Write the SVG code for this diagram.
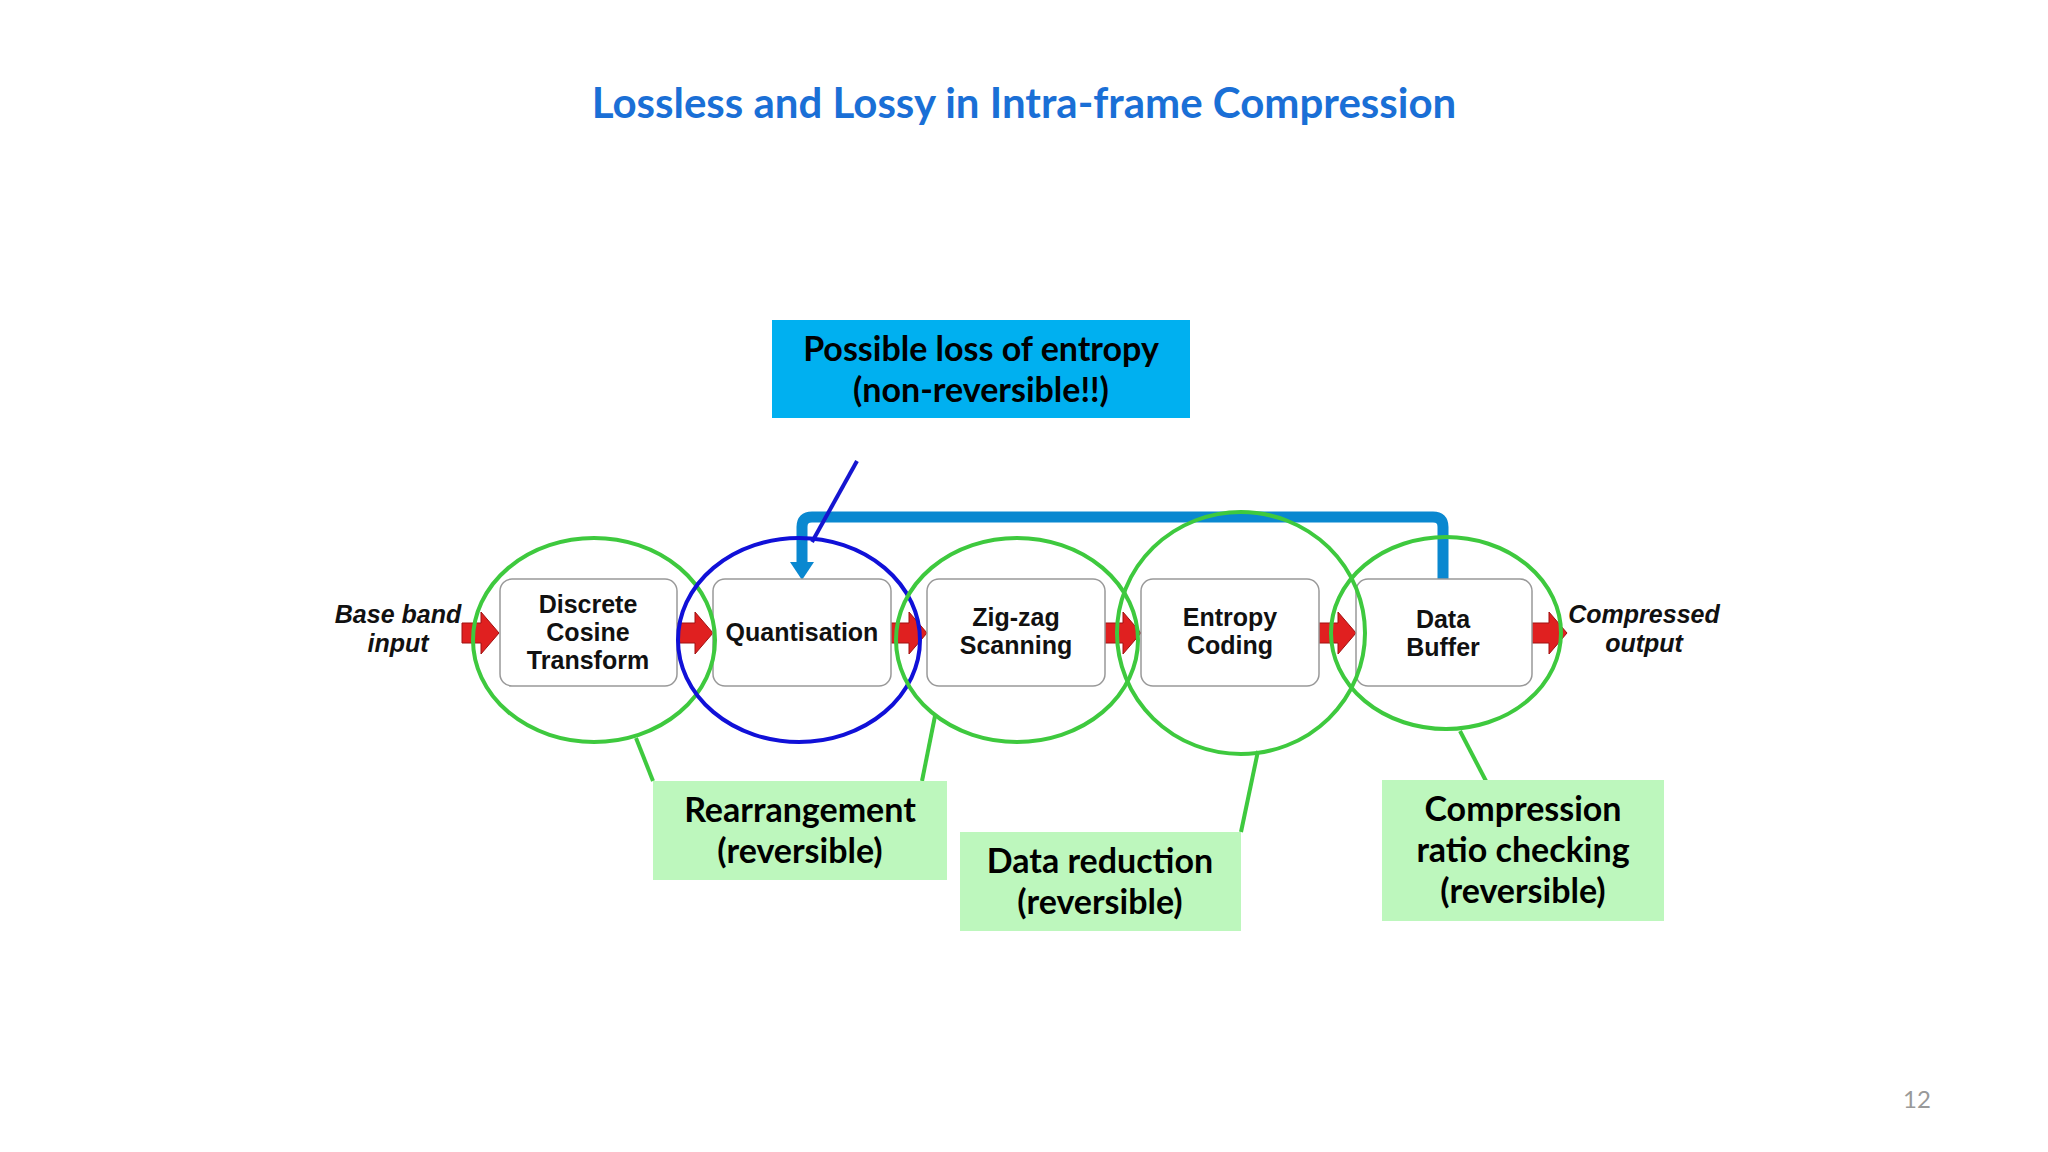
<svg xmlns="http://www.w3.org/2000/svg" width="2048" height="1152" viewBox="0 0 2048 1152">
<style>
.box{fill:#fff;stroke:#999;stroke-width:1.5}
.bt{font-family:"Liberation Sans",Arial,sans-serif;font-weight:bold;font-size:25px;fill:#111;text-anchor:middle}
.it{font-family:"Liberation Sans",Arial,sans-serif;font-weight:bold;font-style:italic;font-size:25px;fill:#111;text-anchor:middle}
.gt{font-family:"Lato","Noto Sans",sans-serif;font-weight:bold;font-size:34px;fill:#000;text-anchor:middle}
.gb{fill:#bdf7bd}
.ge{fill:none;stroke:#3ec93e;stroke-width:4}
.gl{stroke:#3ec93e;stroke-width:4}
.ra{fill:#e02020;stroke:#a01010;stroke-width:1}
</style>
<rect width="2048" height="1152" fill="#fff"/>
<text x="1024" y="118" font-family="Lato,'Noto Sans',sans-serif" font-weight="bold" font-size="42" fill="#1a6fd6" text-anchor="middle">Lossless and Lossy in Intra-frame Compression</text>
<g id="connectors">
<path d="M1443,579 V527 Q1443,517 1433,517 H812 Q802,517 802,527 V564" fill="none" stroke="#0a88d0" stroke-width="11"/>
<polygon points="790,562 814,562 802,580" fill="#0a88d0"/>
<line x1="857" y1="461" x2="812" y2="542" stroke="#1515d0" stroke-width="4"/>
<g id="redarrows">
<polygon class="ra" points="462,623 481,623 481,612 499,633 481,654 481,643 462,643"/>
<polygon class="ra" points="677,623 695,623 695,612 713,633 695,654 695,643 677,643"/>
<polygon class="ra" points="891,623 909,623 909,612 927,633 909,654 909,643 891,643"/>
<polygon class="ra" points="1105,623 1123,623 1123,612 1141,633 1123,654 1123,643 1105,643"/>
<polygon class="ra" points="1319,623 1338,623 1338,612 1356,633 1338,654 1338,643 1319,643"/>
<polygon class="ra" points="1532,623 1549,623 1549,612 1567,633 1549,654 1549,643 1532,643"/>
</g>
<line class="gl" x1="636" y1="738" x2="653" y2="781"/>
<line class="gl" x1="935" y1="716" x2="922" y2="781"/>
<line class="gl" x1="1258" y1="751" x2="1241" y2="832"/>
<line class="gl" x1="1460" y1="731" x2="1486" y2="781"/>
</g>
<g id="dct"><rect class="box" x="500" y="579" width="177" height="107" rx="12"/>
<text class="bt" x="588" y="613">Discrete</text><text class="bt" x="588" y="641">Cosine</text><text class="bt" x="588" y="669">Transform</text></g>
<g id="quant"><rect class="box" x="713" y="579" width="178" height="107" rx="12"/>
<text class="bt" x="802" y="641">Quantisation</text></g>
<g id="zigzag"><rect class="box" x="927" y="579" width="178" height="107" rx="12"/>
<text class="bt" x="1016" y="626">Zig-zag</text><text class="bt" x="1016" y="654">Scanning</text></g>
<g id="entropy"><rect class="box" x="1141" y="579" width="178" height="107" rx="12"/>
<text class="bt" x="1230" y="626">Entropy</text><text class="bt" x="1230" y="654">Coding</text></g>
<g id="buffer"><rect class="box" x="1356" y="579" width="176" height="107" rx="12"/>
<text class="bt" x="1443" y="628">Data</text><text class="bt" x="1443" y="656">Buffer</text></g>
<g id="ellipses">
<ellipse class="ge" cx="594" cy="640" rx="121" ry="102"/>
<ellipse cx="799" cy="640" rx="121" ry="102" fill="none" stroke="#1010d8" stroke-width="4"/>
<ellipse class="ge" cx="1017" cy="640" rx="121" ry="102"/>
<ellipse class="ge" cx="1241" cy="633" rx="124" ry="121"/>
<ellipse class="ge" cx="1446" cy="633" rx="115" ry="96"/>
</g>
<g id="input"><text class="it" x="398" y="623">Base band</text><text class="it" x="398" y="652">input</text></g>
<g id="output"><text class="it" x="1644" y="623">Compressed</text><text class="it" x="1644" y="652">output</text></g>
<g id="loss"><rect x="772" y="320" width="418" height="98" fill="#00b0f0"/>
<text class="gt" x="981" y="361">Possible loss of entropy</text><text class="gt" x="981" y="402">(non-reversible!!)</text></g>
<g id="rearr"><rect class="gb" x="653" y="781" width="294" height="99"/>
<text class="gt" x="800" y="822">Rearrangement</text><text class="gt" x="800" y="863">(reversible)</text></g>
<g id="reduction"><rect class="gb" x="960" y="832" width="281" height="99"/>
<text class="gt" x="1100" y="873">Data reduction</text><text class="gt" x="1100" y="914">(reversible)</text></g>
<g id="ratio"><rect class="gb" x="1382" y="780" width="282" height="141"/>
<text class="gt" x="1523" y="821">Compression</text><text class="gt" x="1523" y="862">ratio checking</text><text class="gt" x="1523" y="903">(reversible)</text></g>
<text x="1917" y="1108" font-family="Lato,'Noto Sans',sans-serif" font-size="24" fill="#999" text-anchor="middle">12</text>
</svg>
